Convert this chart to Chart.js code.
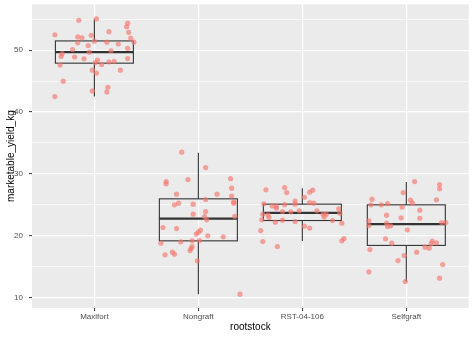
<!DOCTYPE html>
<html lang="en">
<head>
    <meta charset="UTF-8">
    <title>Marketable yield by rootstock</title>
    <script src="https://cdn.jsdelivr.net/npm/chart.js"></script>
    <style>
        body { margin: 0; background: #fff; }
    </style>
</head>
<body>
    <canvas id="yieldChart" width="474" height="338"></canvas>

    <script>
        const categories = ['Maxifort', 'Nongraft', 'RST-04-106', 'Selfgraft'];
        const yMajor = [10, 20, 30, 40, 50];
        const yMinor = [15, 25, 35, 45, 55];

        // box summaries per rootstock
        const whiskerLow = [42.5, 10.5, 19.1, 12.5];
        const q1 = [47.9, 19.14, 22.43, 18.4];
        const median = [49.7, 22.75, 23.67, 21.85];
        const q3 = [51.5, 25.94, 25.08, 24.97];
        const whiskerHigh = [55.1, 33.4, 27.67, 28.65];

        // individual plants (yield) with their horizontal jitter
        const maxifortYield = [54.85, 55.07, 54.37, 53.8, 52.9, 53.0, 52.5, 52.15, 52.0, 52.4,
            51.2, 50.76, 51.46, 51.3, 51.0, 51.94, 51.3, 49.68, 50.1, 49.9,
            50.3, 49.46, 49.0, 48.9, 48.6, 48.4, 48.0, 47.7, 48.1, 48.2,
            48.65, 47.6, 46.76, 46.76, 46.3, 44.98, 44.0, 43.25, 43.4, 42.5];
        const maxifortJitter = [-0.15, 0.02, 0.32, 0.31, 0.33, 0.14, -0.38, -0.16, -0.12, -0.03,
            -0.16, -0.06, 0.0, 0.12, 0.23, 0.35, 0.38, -0.05, -0.21, 0.16,
            0.32, -0.31, -0.32, -0.19, -0.1, 0.03, 0.01, 0.07, 0.14, 0.19,
            0.32, -0.33, 0.25, -0.02, 0.02, -0.3, 0.13, 0.12, -0.02, -0.38];

        const nongraftYield = [33.5, 31.0, 28.74, 28.4, 29.06, 29.2, 27.67, 26.7, 26.7, 26.4,
            25.45, 25.24, 24.97, 25.24, 25.08, 25.83, 23.88, 23.46, 23.07, 22.54,
            23.1, 21.3, 21.13, 20.87, 20.55, 20.23, 19.95, 19.79, 18.77, 18.98,
            19.14, 19.19, 18.22, 17.9, 17.57, 17.31, 16.99, 16.88, 15.9, 10.5];
        const nongraftJitter = [-0.16, 0.07, -0.31, -0.31, -0.1, 0.31, 0.32, -0.21, 0.18, 0.32,
            0.34, 0.34, -0.23, -0.19, -0.05, 0.07, 0.07, -0.05, 0.06, 0.08,
            0.35, -0.34, -0.21, 0.02, 0.0, -0.02, 0.09, 0.24, -0.36, -0.17,
            -0.06, 0.01, -0.06, -0.07, -0.08, -0.25, -0.23, -0.32, -0.01, 0.4];

        const rstYield = [27.4, 27.77, 26.96, 26.2, 27.02, 27.35, 25.13, 24.8, 24.7, 24.43,
            25.0, 25.57, 25.08, 25.34, 25.24, 24.32, 23.46, 23.35, 22.9, 23.88,
            23.83, 24.0, 24.0, 23.46, 23.46, 22.98, 23.62, 22.54, 22.17, 22.49,
            22.27, 22.43, 22.0, 21.52, 21.2, 20.8, 19.03, 18.22, 19.51, 19.14];
        const rstJitter = [-0.35, -0.17, -0.15, 0.02, 0.07, 0.1, -0.37, -0.29, -0.25, -0.25,
            -0.17, -0.07, -0.07, 0.07, 0.11, 0.35, -0.38, -0.33, -0.32, -0.19,
            -0.11, -0.03, 0.14, 0.2, 0.23, 0.21, 0.36, -0.39, -0.26, -0.19,
            -0.07, 0.29, 0.38, 0.02, 0.07, -0.4, -0.38, -0.24, 0.4, 0.38];

        const selfgraftYield = [28.74, 28.25, 27.56, 26.96, 25.89, 25.73, 25.24, 25.78, 24.97, 24.97,
            25.18, 24.6, 24.1, 23.3, 22.86, 22.8, 22.38, 21.62, 22.0, 21.46,
            21.57, 22.1, 22.1, 20.92, 19.47, 18.77, 19.1, 18.7, 18.82, 18.12,
            17.96, 17.73, 17.3, 16.76, 15.95, 15.3, 14.13, 13.1, 12.56];
        const selfgraftJitter = [0.08, 0.32, 0.32, -0.03, -0.33, 0.04, 0.06, 0.29, -0.34, -0.24,
            -0.18, -0.04, 0.13, -0.19, -0.05, 0.13, -0.36, -0.36, -0.19, -0.18,
            -0.15, 0.34, 0.38, 0.01, -0.2, -0.14, 0.25, 0.24, 0.29, 0.18,
            0.22, -0.35, 0.1, -0.02, -0.08, 0.35, -0.36, 0.32, -0.01];

        const groups = [
            [maxifortYield, maxifortJitter],
            [nongraftYield, nongraftJitter],
            [rstYield, rstJitter],
            [selfgraftYield, selfgraftJitter]
        ];

        const pointFill = 'rgba(248, 118, 109, 0.65)';
        const boxWidth = 0.75;

        const datasets = groups.map(([ys, jit], i) => ({
            label: categories[i],
            data: ys.map((y, k) => ({ x: i + 1 + jit[k], y: y })),
            backgroundColor: pointFill,
            borderWidth: 0,
            pointRadius: 2.6
        }));

        // grey panel behind the grid
        const panelBg = {
            id: 'panelBg',
            beforeDraw(chart) {
                const { ctx, chartArea: a } = chart;
                ctx.save();
                ctx.fillStyle = '#EBEBEB';
                ctx.fillRect(a.left, a.top, a.right - a.left, a.bottom - a.top);
                ctx.restore();
            }
        };

        // boxes, medians and whiskers
        const boxes = {
            id: 'boxes',
            beforeDatasetsDraw(chart) {
                const { ctx, scales: { x, y } } = chart;
                ctx.save();
                ctx.strokeStyle = '#333333';
                categories.forEach((c, i) => {
                    const cx = x.getPixelForValue(i + 1);
                    const l = x.getPixelForValue(i + 1 - boxWidth / 2);
                    const r = x.getPixelForValue(i + 1 + boxWidth / 2);
                    const top = y.getPixelForValue(q3[i]);
                    const bot = y.getPixelForValue(q1[i]);

                    ctx.lineWidth = 1.1;
                    ctx.beginPath();
                    ctx.moveTo(cx, y.getPixelForValue(whiskerHigh[i]));
                    ctx.lineTo(cx, top);
                    ctx.moveTo(cx, bot);
                    ctx.lineTo(cx, y.getPixelForValue(whiskerLow[i]));
                    ctx.stroke();
                    ctx.strokeRect(l, top, r - l, bot - top);

                    ctx.lineWidth = 2.2;
                    const m = y.getPixelForValue(median[i]);
                    ctx.beginPath();
                    ctx.moveTo(l, m);
                    ctx.lineTo(r, m);
                    ctx.stroke();
                });
                ctx.restore();
            }
        };

        const allY = yMajor.concat(yMinor).sort((a, b) => a - b);

        const ctx = document.getElementById('yieldChart').getContext('2d');
        new Chart(ctx, {
            type: 'scatter',
            data: { datasets: datasets },
            plugins: [panelBg, boxes],
            options: {
                responsive: false,
                animation: false,
                layout: { padding: { top: 4.3, right: 5.3, left: 0, bottom: 0 } },
                plugins: {
                    legend: { display: false },
                    tooltip: { enabled: false }
                },
                scales: {
                    x: {
                        type: 'linear',
                        min: 0.4,
                        max: 4.6,
                        afterBuildTicks: s => { s.ticks = categories.map((c, i) => ({ value: i + 1 })); },
                        afterFit: s => { s.height = 30; s.paddingLeft = 0; s.paddingRight = 0; },
                        border: { display: false },
                        grid: {
                            color: '#FFFFFF',
                            lineWidth: 1.2,
                            tickLength: 3,
                            tickColor: '#333333',
                            tickWidth: 1
                        },
                        ticks: {
                            padding: 1,
                            color: '#4D4D4D',
                            font: { family: 'Liberation Sans', size: 8 },
                            maxRotation: 0,
                            callback: v => categories[v - 1]
                        },
                        title: {
                            display: true,
                            text: 'rootstock',
                            color: '#000000',
                            font: { family: 'Liberation Sans', size: 10 },
                            padding: { top: 0, bottom: 5 }
                        }
                    },
                    y: {
                        min: 8.27,
                        max: 57.43,
                        afterBuildTicks: s => { s.ticks = allY.map(v => ({ value: v })); },
                        afterFit: s => { s.width = 32; s.paddingTop = 0; s.paddingBottom = 0; },
                        border: { display: false },
                        grid: {
                            color: '#FFFFFF',
                            lineWidth: c => (c.tick && c.tick.value % 10 === 0) ? 1.2 : 0.6,
                            tickLength: 3,
                            tickColor: c => (c.tick && c.tick.value % 10 === 0) ? '#333333' : 'rgba(0,0,0,0)',
                            tickWidth: 1
                        },
                        ticks: {
                            padding: 6,
                            color: '#4D4D4D',
                            font: { family: 'Liberation Sans', size: 8 },
                            callback: v => (v % 10 === 0 ? v : '')
                        },
                        title: {
                            display: true,
                            text: 'marketable_yield_kg',
                            color: '#000000',
                            font: { family: 'Liberation Sans', size: 10 },
                            padding: { top: 5, bottom: 0 }
                        }
                    }
                }
            }
        });
    </script>
</body>
</html>
